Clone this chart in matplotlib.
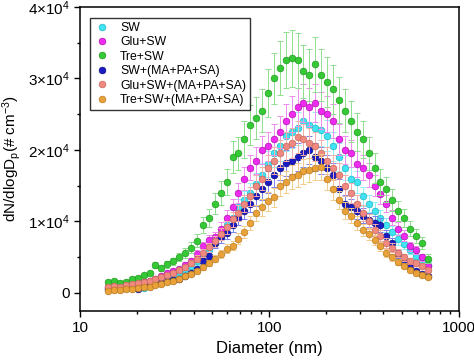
import matplotlib
matplotlib.use("Agg")
import matplotlib.pyplot as plt
from matplotlib.ticker import FixedLocator, FuncFormatter, MultipleLocator
import numpy as np

plt.rcParams['font.family'] = ['Liberation Sans', 'DejaVu Sans']
plt.rcParams['mathtext.fontset'] = 'custom'
plt.rcParams['mathtext.rm'] = 'Liberation Sans'
plt.rcParams['mathtext.it'] = 'Liberation Sans:italic'

# particle diameter (nm)
diameter = [14.1, 15.1, 16.3, 17.5, 18.8, 20.2, 21.7, 23.3, 25.0, 26.9,
            28.9, 31.1, 33.4, 35.9, 38.5, 41.4, 44.5, 47.8, 51.4, 55.2,
            59.4, 63.8, 68.5, 73.7, 79.1, 85.1, 91.4, 98.2, 105.5, 113.4,
            121.9, 131.0, 140.7, 151.2, 162.5, 174.7, 187.7, 201.7, 216.7, 232.9,
            250.3, 269.0, 289.0, 310.6, 333.8, 358.7, 385.4, 414.2, 445.1, 478.3,
            514.0, 552.3, 593.5, 637.8, 685.4]

# dN/dlogDp in thousands of # cm-3
sw = [0.6, 0.7, 0.7, 0.8, 0.9, 1.0, 0.7, 1.2, 1.5, 1.8,
      2.1, 2.5, 2.9, 3.3, 3.8, 4.4, 5.3, 6.0, 7.0, 8.2,
      9.5, 10.5, 12.0, 13.0, 14.0, 15.2, 16.5, 18.0, 19.5, 20.5,
      22.0, 22.5, 23.0, 24.0, 23.5, 23.0, 22.8, 22.0, 20.5, 19.0,
      17.5, 16.0, 15.5, 13.5, 12.5, 11.5, 10.5, 9.5, 8.5, 7.5,
      6.8, 6.0, 5.2, 4.5, 3.9]
glu_sw = [0.8, 0.9, 0.8, 1.0, 1.1, 1.3, 1.5, 1.7, 2.0, 2.4,
          2.8, 3.0, 3.3, 3.9, 4.5, 5.5, 6.5, 7.4, 7.8, 9.0,
          10.5, 12.0, 14.0, 16.0, 17.5, 18.5, 20.0, 20.5, 21.5, 22.5,
          24.0, 25.0, 26.0, 26.5, 26.0, 26.5, 25.5, 25.0, 24.0, 21.5,
          20.0, 19.5, 18.0, 17.5, 16.5, 15.0, 13.8, 12.5, 10.5, 9.0,
          8.0, 6.5, 6.0, 5.0, 3.8]
tre_sw = [1.5, 1.6, 1.4, 1.5, 2.0, 2.1, 2.5, 2.8, 3.9, 3.5,
          4.0, 4.4, 5.0, 5.6, 6.3, 7.3, 9.5, 10.5, 12.5, 14.0,
          15.5, 19.0, 19.5, 21.5, 23.5, 24.5, 25.5, 28.0, 30.0, 31.5,
          32.6, 32.8, 32.5, 31.0, 30.5, 32.0, 30.5, 29.5, 28.5, 27.0,
          25.5, 24.0, 22.5, 21.5, 19.5, 17.5, 15.5, 14.5, 13.0, 11.5,
          10.5, 9.0, 8.0, 7.0, 4.8]
sw_org = [0.5, 0.6, 0.6, 0.7, 0.8, 0.6, 1.0, 1.1, 1.3, 1.4,
          1.6, 1.8, 1.9, 2.4, 2.8, 3.3, 4.5, 5.2, 7.0, 7.8,
          8.4, 9.5, 10.5, 11.5, 12.5, 13.5, 14.5, 15.5, 16.5, 17.5,
          18.2, 18.5, 19.0, 19.5, 20.0, 19.0, 18.5, 17.5, 16.5, 14.5,
          12.5, 12.0, 11.5, 10.8, 10.2, 9.8, 9.5, 8.0, 7.0, 5.5,
          4.2, 3.6, 3.0, 2.6, 2.4]
glu_sw_org = [0.9, 1.0, 0.9, 1.1, 1.2, 1.4, 1.5, 1.7, 1.9, 2.2,
              2.5, 2.8, 3.2, 3.6, 4.2, 4.8, 5.6, 6.4, 7.2, 8.2,
              9.2, 10.3, 11.2, 12.5, 13.5, 15.0, 16.0, 17.5, 18.5, 19.5,
              20.5, 21.0, 21.8, 21.5, 21.0, 20.5, 19.5, 18.5, 17.5, 16.5,
              15.0, 14.0, 12.5, 11.2, 10.0, 8.8, 8.0, 7.0, 6.3, 5.6,
              5.0, 4.5, 4.2, 3.8, 3.2]
tre_sw_org = [0.3, 0.4, 0.4, 0.5, 0.6, 0.7, 0.8, 0.9, 1.1, 1.3,
              1.5, 1.7, 2.0, 2.3, 2.7, 3.1, 3.6, 4.2, 4.8, 5.5,
              6.2, 6.6, 7.6, 8.5, 9.8, 11.2, 12.0, 12.8, 13.4, 15.0,
              15.5, 16.2, 16.5, 17.0, 17.2, 17.5, 17.6, 16.0, 14.5, 13.0,
              11.5, 10.8, 9.8, 8.8, 8.2, 7.4, 6.5, 5.6, 5.0, 4.3,
              3.8, 3.2, 2.8, 2.5, 2.2]

labels = ["SW", "Glu+SW", "Tre+SW", "SW+(MA+PA+SA)",
          "Glu+SW+(MA+PA+SA)", "Tre+SW+(MA+PA+SA)"]
series = [sw, glu_sw, tre_sw, sw_org, glu_sw_org, tre_sw_org]
rel_err = [0.10, 0.10, 0.12, 0.10, 0.10, 0.10]

face = ["#3fe3f2", "#ee2bee", "#36c936", "#1b1bc4", "#f08a80", "#e9a23a"]
edge = ["#1fb5c4", "#b010b0", "#1e9a1e", "#0a0a80", "#c8665c", "#bb7a1e"]
errc = ["#8ef0f8", "#f08cf0", "#8ee08e", "#8080ee", "#f5b0aa", "#f2cc8a"]

fig = plt.figure(figsize=(4.74, 3.61), dpi=100)
ax = fig.add_axes([0.169, 0.139, 0.799, 0.842])

d = np.array(diameter)
for i in range(len(series)):
    y = np.array(series[i]) * 1000
    ax.errorbar(d, y, yerr=y * rel_err[i], fmt='none', ecolor=errc[i],
                elinewidth=0.7, capsize=2.5, capthick=0.7, zorder=2 + i)
    ax.plot(d, y, 'o', ms=4.8, mfc=face[i], mec=edge[i], mew=0.5,
            label=labels[i], zorder=3 + i)

ax.set_xscale('log')
ax.set_xlim(10, 1000)
ax.set_ylim(-2500, 40000)
ax.yaxis.set_major_locator(FixedLocator([0, 10000, 20000, 30000, 40000]))
ax.yaxis.set_minor_locator(MultipleLocator(5000))

def yfmt(v, pos):
    n = int(round(v / 10000))
    if n == 0:
        return "0"
    return r"%d$\times$10$^{4}$" % n

ax.yaxis.set_major_formatter(FuncFormatter(yfmt))
ax.xaxis.set_major_formatter(FuncFormatter(lambda v, p: "%d" % v))

ax.tick_params(which='both', direction='out', top=False, right=False,
               labelsize=11, width=1)
ax.tick_params(which='major', length=4)
ax.tick_params(which='minor', length=2.5)
for s in ax.spines.values():
    s.set_linewidth(1.1)

ax.set_xlabel("Diameter (nm)", fontsize=12)
ax.set_ylabel(r"dN/dlogD$_{\rm p}$(# cm$^{-3}$)", fontsize=11)
ax.yaxis.set_label_coords(-0.152, 0.5)

leg = ax.legend(loc='upper left', fontsize=8.8, frameon=True, fancybox=False,
                edgecolor='black', handletextpad=0.9, labelspacing=0.2,
                borderpad=0.35, handlelength=1.2, markerscale=1.0,
                bbox_to_anchor=(0.01, 0.985))
leg.get_frame().set_linewidth(1.0)

fig.savefig("out.png", dpi=100)
